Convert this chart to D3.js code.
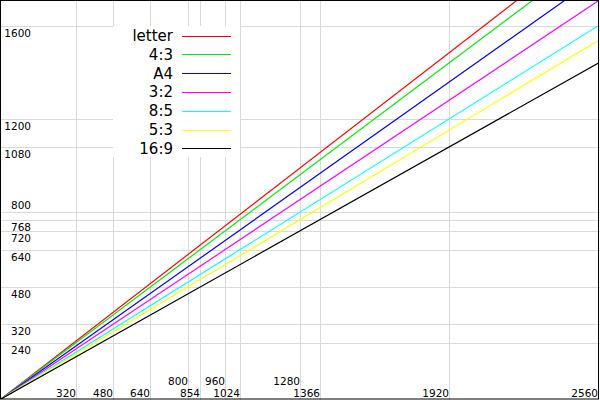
<!DOCTYPE html>
<html><head><meta charset="utf-8">
<script src="https://cdn.jsdelivr.net/npm/d3@7"></script>
<style>body{margin:0;background:#fff}svg{display:block}</style>
</head><body><svg id="c" width="600" height="400"></svg>
<script>
const seriesNames = ["letter","4:3","A4","3:2","8:5","5:3","16:9"];
const ratioW = [11, 4, 1.4142, 3, 8, 5, 16];
const ratioH = [8.5, 3, 1, 2, 5, 3, 9];
const colors = ["#ff0000","#00ee00","#0000ff","#ff00ff","#00ffff","#ffff00","#000000"];
const xTicks = [320,480,640,800,854,960,1024,1280,1366,1920,2560];
const xTicksUpper = [800,960,1280];
const yTicks = [240,320,480,640,720,768,800,1080,1200,1600];
const yTicksAbove = [800];
const xMax = 2560, yMax = 1711;

const svg = d3.select("#c");
const W = 600, H = 400;
const x = d3.scaleLinear().domain([0,xMax]).range([1,598]);
const y = d3.scaleLinear().domain([0,yMax]).range([399,0]);

// grid
const grid = svg.append("g").attr("stroke","#d9d9d9").attr("stroke-width",1);
grid.selectAll("line.v").data(xTicks).join("line")
  .attr("x1",d=>Math.round(x(d))+0.5).attr("x2",d=>Math.round(x(d))+0.5)
  .attr("y1",0).attr("y2",H);
grid.selectAll("line.h").data(yTicks).join("line")
  .attr("y1",d=>Math.round(y(d))+0.5).attr("y2",d=>Math.round(y(d))+0.5)
  .attr("x1",0).attr("x2",W);

// clip
svg.append("clipPath").attr("id","clip").append("rect").attr("x",1).attr("y",1).attr("width",597).attr("height",398);

// lines
const lineGen = d3.line().x(d=>x(d[0])).y(d=>y(d[1]));
const lg = svg.append("g").attr("clip-path","url(#clip)");
seriesNames.forEach((n,i)=>{
  const pts = [[0,0],[xMax, xMax*ratioH[i]/ratioW[i]]];
  lg.append("path").attr("d",lineGen(pts)).attr("fill","none")
    .attr("stroke",colors[i]).attr("stroke-width",1.2);
});

// tick labels
const tf = "DejaVu Sans, sans-serif";
svg.append("g").selectAll("text").data(yTicks).join("text")
  .attr("x",31).attr("text-anchor","end")
  .attr("y",d=> yTicksAbove.includes(d) ? Math.round(y(d))-3 : Math.round(y(d))+11)
  .attr("font-family",tf).attr("font-size",10.5).attr("fill","#000").text(d=>d);
svg.append("g").selectAll("text").data(xTicks).join("text")
  .attr("x",d=>Math.round(x(d))).attr("text-anchor","end")
  .attr("y",d=> xTicksUpper.includes(d) ? 384.5 : 396.5)
  .attr("font-family",tf).attr("font-size",10.5).attr("fill","#000").text(d=>d);

// legend
const leg = svg.append("g");
leg.append("rect").attr("x",113).attr("y",26).attr("width",127).attr("height",131).attr("fill","#fff");
seriesNames.forEach((n,i)=>{
  const ly = 35.5 + i*18.83;
  leg.append("text").attr("x",173).attr("y",ly+5.5).attr("text-anchor","end")
    .attr("font-family",tf).attr("font-size",15).attr("fill","#000").text(n);
  leg.append("line").attr("x1",182).attr("x2",231).attr("y1",Math.round(ly)+0.5).attr("y2",Math.round(ly)+0.5)
    .attr("stroke",colors[i]).attr("stroke-width",1.2);
});

// border
svg.append("rect").attr("x",0.5).attr("y",0.5).attr("width",598).attr("height",398.5)
  .attr("fill","none").attr("stroke","#000").attr("stroke-width",1);
</script></body></html>
